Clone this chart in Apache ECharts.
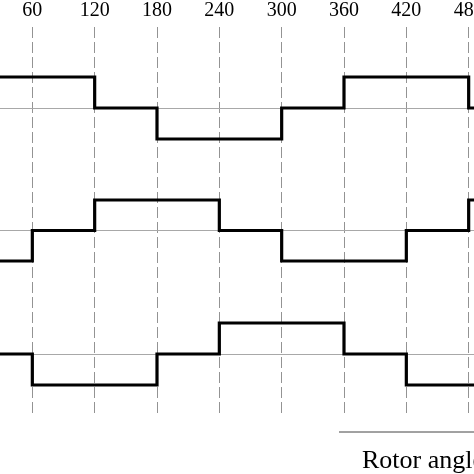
<!DOCTYPE html>
<html>
<head>
<meta charset="utf-8">
<script src="https://cdn.jsdelivr.net/npm/echarts@6/dist/echarts.min.js"></script>
<style>html,body{margin:0;padding:0;background:#fff;}#c{width:474px;height:474px;}</style>
</head>
<body>
<div id="c"></div>
<script>
// Rotor angle (deg) at the start of each 60-degree step
var angles = [0, 60, 120, 180, 240, 300, 360, 420, 480, 540];
// Phase levels (+1 / 0 / -1) held from each angle to the next
var phaseA = [1, 1, 0, -1, -1, 0, 1, 1, 0, 0];
var phaseB = [-1, 0, 1, 1, 0, -1, -1, 0, 1, 1];
var phaseC = [0, -1, -1, 0, 1, 1, 0, -1, -1, -1];
var tickLabels = [0, 60, 120, 180, 240, 300, 360, 420, 480, 540];
var xLabel = 'Rotor angle';

var FONT = "'Liberation Serif', 'Times New Roman', serif";
var chart = echarts.init(document.getElementById('c'), null, {renderer: 'canvas'});

function pts(vals) { return angles.map(function (a, i) { return [a, vals[i]]; }); }

var L = -30, W = 561;
function mk(top, h) {
  return {left: L, width: W, top: top, height: h, containLabel: false, outerBoundsMode: 'none'};
}
var grids = [mk(27, 390), mk(77, 62), mk(200, 61), mk(323, 62)];
var xAxes = [{
  gridIndex: 0, type: 'value', min: 0, max: 540, interval: 60, position: 'top',
  axisLine: {show: false}, axisTick: {show: false},
  axisLabel: {show: true, margin: 6, color: '#000', fontSize: 20, fontFamily: FONT,
    formatter: function (v) { return tickLabels.indexOf(v) >= 0 ? String(v) : ''; }},
  splitLine: {show: true, lineStyle: {color: '#939393', width: 1, type: [11, 4]}}
}];
var yAxes = [{gridIndex: 0, type: 'value', min: 0, max: 1, show: false, splitLine: {show: false}}];
for (var g = 1; g <= 3; g++) {
  xAxes.push({gridIndex: g, type: 'value', min: 0, max: 540, interval: 60,
    axisLine: {show: true, onZero: true, lineStyle: {color: '#a8a8a8', width: 1}},
    axisTick: {show: false}, axisLabel: {show: false}, splitLine: {show: false}});
  yAxes.push({gridIndex: g, type: 'value', min: -1, max: 1, show: false,
    axisLine: {show: false}, splitLine: {show: false}});
}
yAxes.forEach(function (y) { y.axisLine = {show: false, onZero: false}; });

function stepSeries(idx, vals) {
  return {type: 'line', xAxisIndex: idx, yAxisIndex: idx, data: pts(vals), step: 'end',
    showSymbol: false, symbol: 'none', clip: false, animation: false,
    lineStyle: {color: '#000', width: 3.2, join: 'miter', cap: 'butt'}};
}

chart.setOption({
  backgroundColor: '#fff',
  animation: false,
  grid: grids,
  xAxis: xAxes,
  yAxis: yAxes,
  series: [stepSeries(1, phaseA), stepSeries(2, phaseB), stepSeries(3, phaseC)],
  graphic: [
    {type: 'line', shape: {x1: 339, y1: 432, x2: 474, y2: 432},
      style: {stroke: '#444', lineWidth: 1}},
    {type: 'text', x: 362, y: 461,
      style: {text: xLabel, font: '26px ' + FONT, fill: '#000', verticalAlign: 'middle', align: 'left'}}
  ]
});
</script>
</body>
</html>
